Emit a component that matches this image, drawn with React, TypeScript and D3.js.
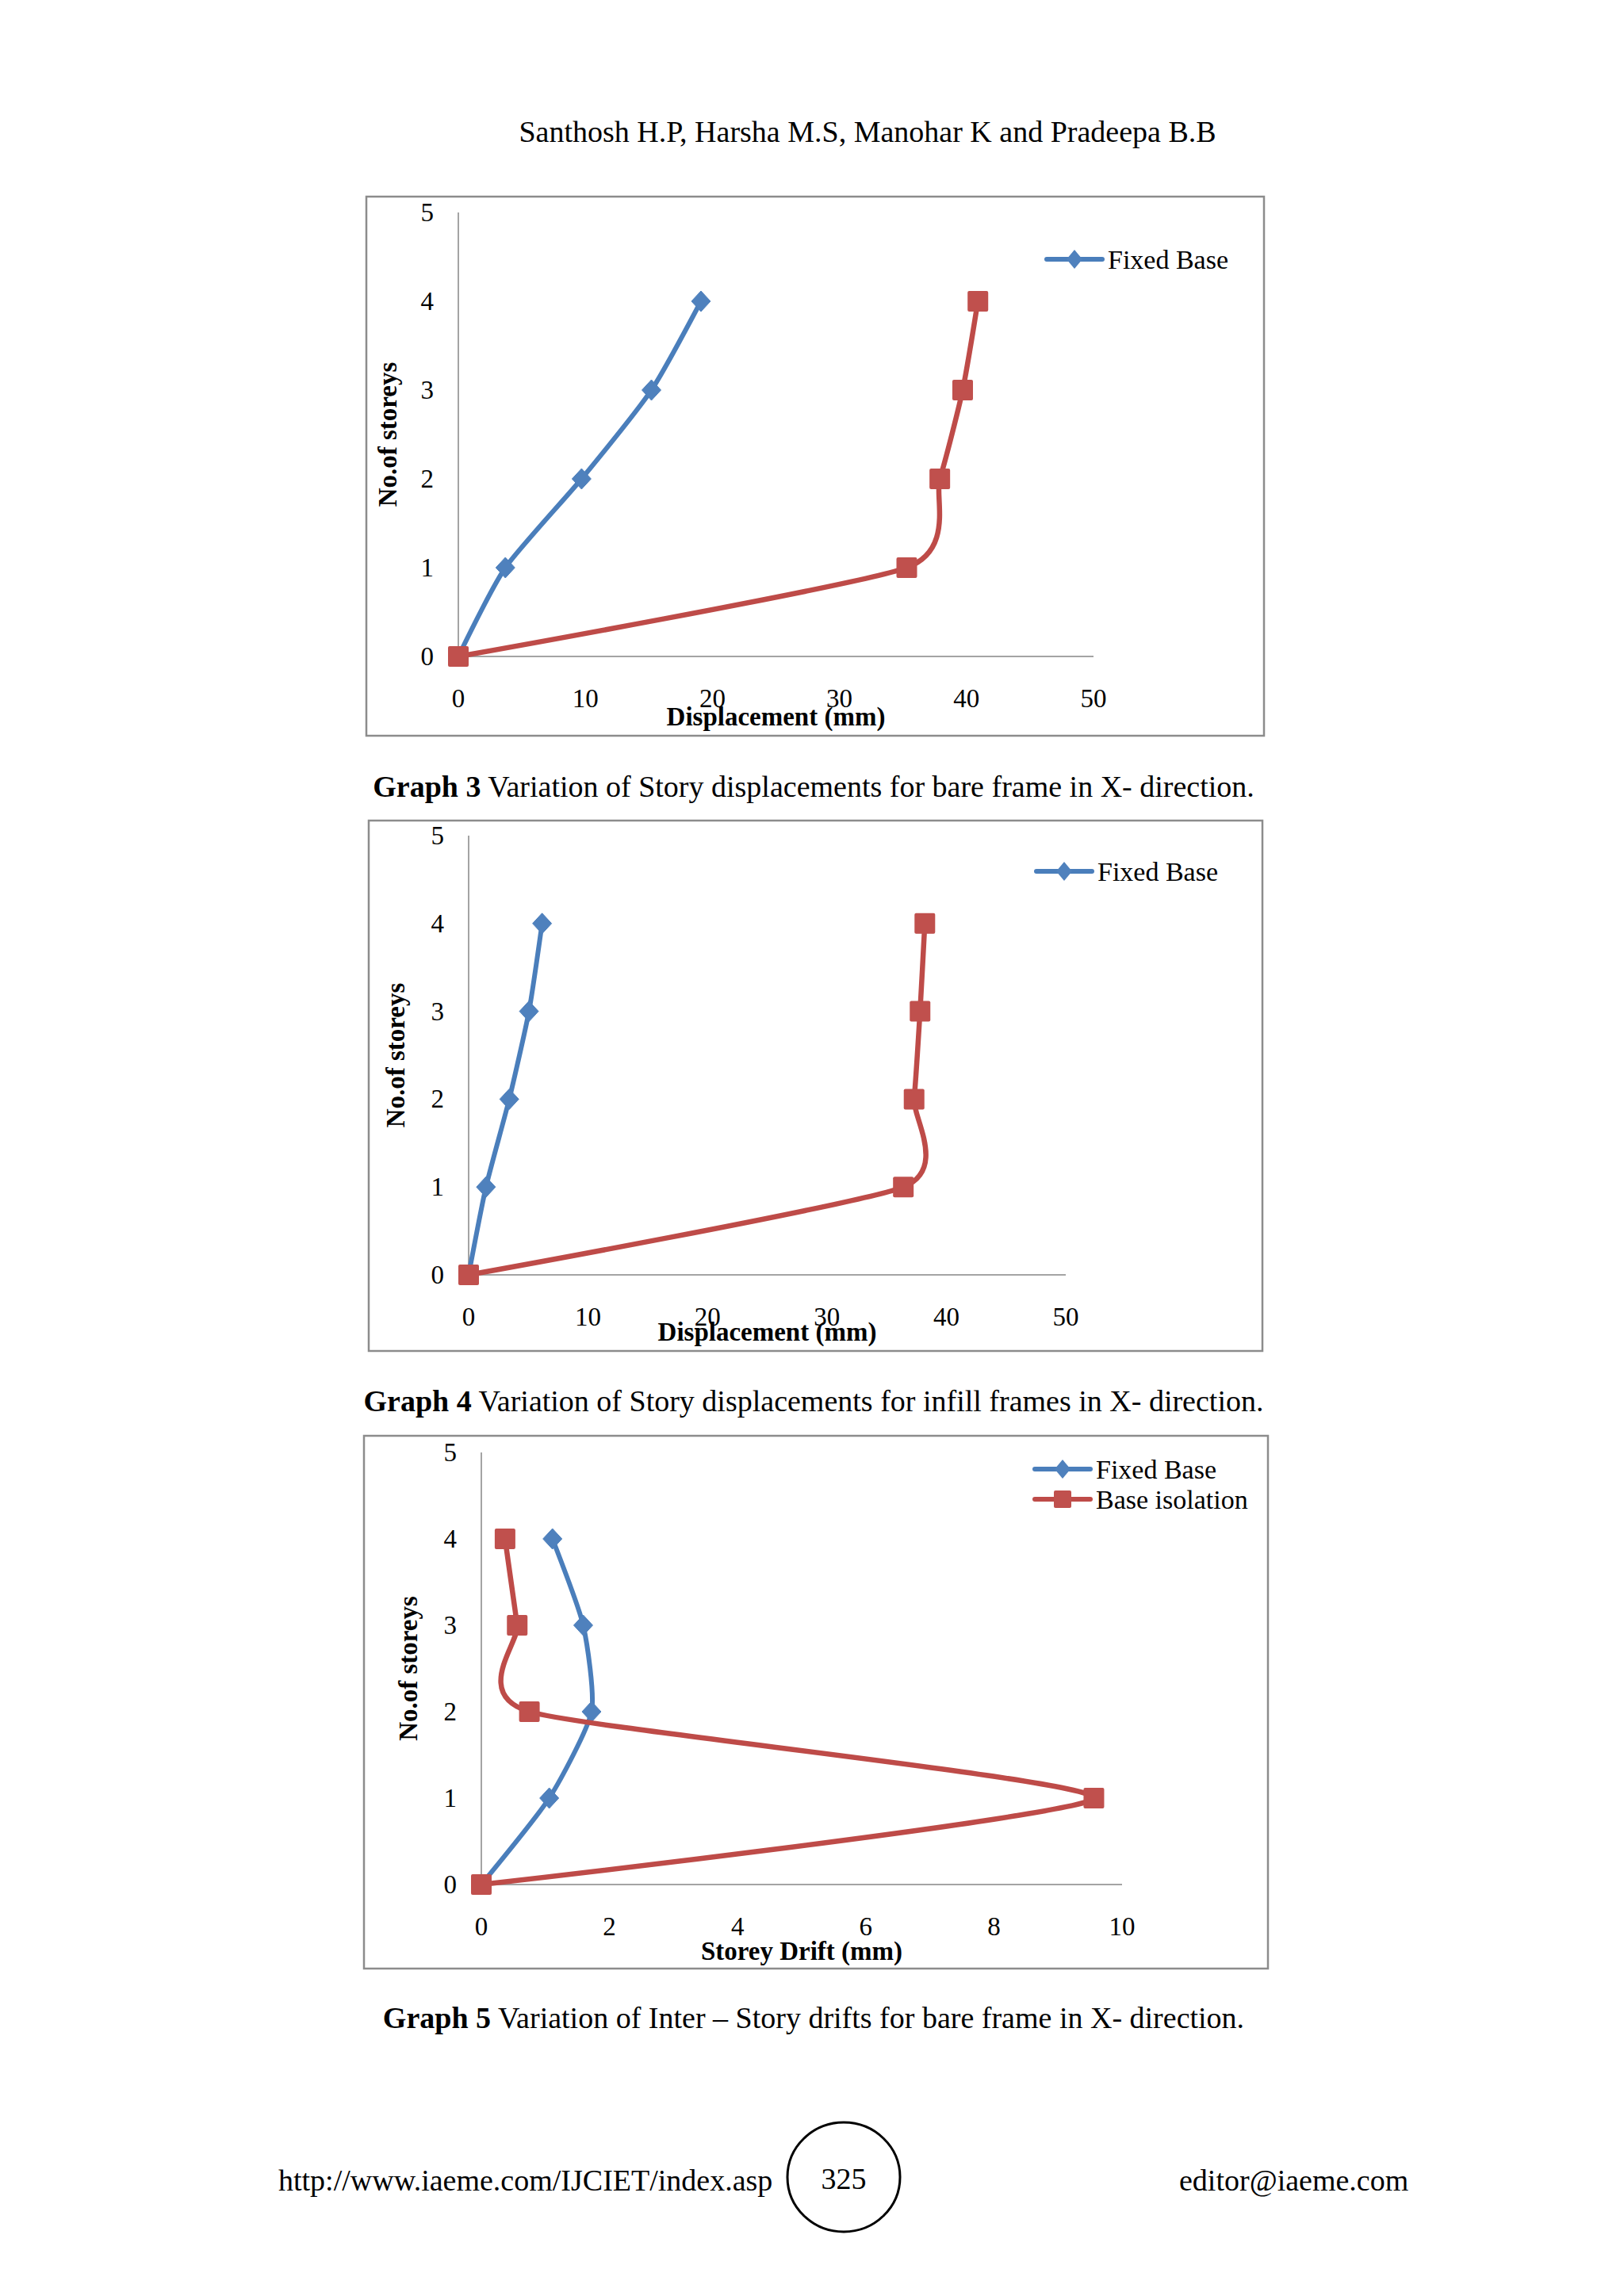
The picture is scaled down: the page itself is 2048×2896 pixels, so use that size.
import React from "react";
import * as d3 from "d3";

// ---------- data ----------
const storeys = [0, 1, 2, 3, 4];
const storeyTicks = [0, 1, 2, 3, 4, 5];

const g3Fixed = [0, 3.7, 9.7, 15.2, 19.1];
const g3Iso = [0, 35.3, 37.9, 39.7, 40.9];

const g4Fixed = [0, 1.45, 3.4, 5.05, 6.15];
const g4Iso = [0, 36.4, 37.3, 37.8, 38.2];

const g5Fixed = [0, 1.06, 1.72, 1.59, 1.11];
const g5Iso = [0, 9.56, 0.75, 0.56, 0.37];

const dispTicks = [0, 10, 20, 30, 40, 50];
const driftTicks = [0, 2, 4, 6, 8, 10];

const seriesNames = ["Fixed Base", "Base isolation"];

const headerText = "Santhosh H.P, Harsha M.S, Manohar K and Pradeepa B.B";
const captions = [
  ["Graph 3", " Variation of Story displacements for bare frame in X- direction."],
  ["Graph 4", " Variation of Story displacements for infill frames in X- direction."],
  ["Graph 5", " Variation of Inter \u2013 Story drifts for bare frame in X- direction."],
];
const footerLeft = "http://www.iaeme.com/IJCIET/index.asp";
const footerPage = "325";
const footerRight = "editor@iaeme.com";

// ---------- style ----------
const BLUE_LINE = "#4A7EBB";
const BLUE_MARK = "#4F81BD";
const RED_LINE = "#BE4B48";
const RED_MARK = "#C0504D";
const AXIS = "#868686";
const FRAME = "#8C8C8C";
const FONT = "'Liberation Serif', 'Times New Roman', serif";

type ChartCfg = {
  frame: { x: number; y: number; w: number; h: number };
  plot: { x0: number; x1: number; y0: number; y1: number };
  xMax: number;
  xTicks: number[];
  xTitle: string;
  xTitleY: number;
  yTitleX: number;
  fixed: number[];
  iso: number[];
  legendX: number;
  legendY: number[];
};

const charts: ChartCfg[] = [
  {
    frame: { x: 462, y: 248, w: 1132, h: 680 },
    plot: { x0: 578, x1: 1379, y0: 828, y1: 268 },
    xMax: 50,
    xTicks: dispTicks,
    xTitle: "Displacement (mm)",
    xTitleY: 904,
    yTitleX: 489,
    fixed: g3Fixed,
    iso: g3Iso,
    legendX: 1320,
    legendY: [327],
  },
  {
    frame: { x: 465, y: 1035, w: 1127, h: 669 },
    plot: { x0: 591, x1: 1344, y0: 1608, y1: 1054 },
    xMax: 50,
    xTicks: dispTicks,
    xTitle: "Displacement (mm)",
    xTitleY: 1680,
    yTitleX: 499,
    fixed: g4Fixed,
    iso: g4Iso,
    legendX: 1307,
    legendY: [1099],
  },
  {
    frame: { x: 459, y: 1811, w: 1140, h: 672 },
    plot: { x0: 607, x1: 1415, y0: 2377, y1: 1832 },
    xMax: 10,
    xTicks: driftTicks,
    xTitle: "Storey Drift (mm)",
    xTitleY: 2461,
    yTitleX: 515,
    fixed: g5Fixed,
    iso: g5Iso,
    legendX: 1305,
    legendY: [1853, 1891],
  },
];

const diamond = (cx: number, cy: number, w: number, h: number) =>
  `M${cx},${cy - h}L${cx + w},${cy}L${cx},${cy + h}L${cx - w},${cy}Z`;

function Chart({ c }: { c: ChartCfg }) {
  const x = d3.scaleLinear().domain([0, c.xMax]).range([c.plot.x0, c.plot.x1]);
  const y = d3.scaleLinear().domain([0, 5]).range([c.plot.y0, c.plot.y1]);
  const line = d3
    .line<number>()
    .x((d) => x(d))
    .y((_, i) => y(storeys[i]))
    .curve(d3.curveCardinal.tension(0.4));
  const midX = (c.plot.x0 + c.plot.x1) / 2;
  const midY = (c.plot.y0 + c.plot.y1) / 2;
  return (
    <g>
      <rect
        x={c.frame.x}
        y={c.frame.y}
        width={c.frame.w}
        height={c.frame.h}
        fill="#fff"
        stroke={FRAME}
        strokeWidth={2.5}
      />
      {/* axes */}
      <line x1={x(0)} x2={x(0)} y1={y(0)} y2={y(5)} stroke={AXIS} strokeWidth={1.5} />
      <line x1={x(0)} x2={x(c.xMax)} y1={y(0)} y2={y(0)} stroke={AXIS} strokeWidth={1.5} />
      {storeyTicks.map((t) => (
        <text
          key={"y" + t}
          x={x(0) - 31}
          y={y(t)}
          textAnchor="end"
          dominantBaseline="central"
          fontSize={33}
          fontFamily={FONT}
        >
          {t}
        </text>
      ))}
      {c.xTicks.map((t) => (
        <text
          key={"x" + t}
          x={x(t)}
          y={y(0) + 53}
          textAnchor="middle"
          dominantBaseline="central"
          fontSize={33}
          fontFamily={FONT}
        >
          {t}
        </text>
      ))}
      {/* titles */}
      <text
        x={midX}
        y={c.xTitleY}
        textAnchor="middle"
        dominantBaseline="central"
        fontSize={33}
        fontWeight="bold"
        fontFamily={FONT}
      >
        {c.xTitle}
      </text>
      <text
        transform={`translate(${c.yTitleX},${midY}) rotate(-90)`}
        textAnchor="middle"
        dominantBaseline="central"
        fontSize={33}
        fontWeight="bold"
        fontFamily={FONT}
      >
        No.of storeys
      </text>
      {/* fixed base series */}
      <path d={line(c.fixed) || ""} fill="none" stroke={BLUE_LINE} strokeWidth={6} strokeLinecap="round" strokeLinejoin="round" />
      {c.fixed.map((v, i) => (
        <path key={"f" + i} d={diamond(x(v), y(storeys[i]), 12, 13)} fill={BLUE_MARK} stroke={BLUE_MARK} strokeWidth={1} strokeLinejoin="round" />
      ))}
      {/* base isolation series */}
      <path d={line(c.iso) || ""} fill="none" stroke={RED_LINE} strokeWidth={6.5} strokeLinecap="round" strokeLinejoin="round" />
      {c.iso.map((v, i) => (
        <rect key={"r" + i} x={x(v) - 13} y={y(storeys[i]) - 13} width={26} height={26} rx={2} fill={RED_MARK} />
      ))}
      {/* legend */}
      {c.legendY.map((ly, i) => (
        <g key={"l" + i}>
          <line x1={c.legendX} x2={c.legendX + 70} y1={ly} y2={ly} stroke={i === 0 ? BLUE_LINE : RED_LINE} strokeWidth={6} strokeLinecap="round" />
          {i === 0 ? (
            <path d={diamond(c.legendX + 35, ly, 10, 12)} fill={BLUE_MARK} />
          ) : (
            <rect x={c.legendX + 35 - 11} y={ly - 11} width={22} height={22} rx={2} fill={RED_MARK} />
          )}
          <text
            x={c.legendX + 77}
            y={ly}
            dominantBaseline="central"
            fontSize={34}
            fontFamily={FONT}
          >
            {seriesNames[i]}
          </text>
        </g>
      ))}
    </g>
  );
}

export default function App() {
  const captionY = [992, 1767, 2545];
  return (
    <svg
      width={2048}
      height={2896}
      style={{ position: "absolute", left: 0, top: 0, display: "block", background: "#fff" }}
    >
      <rect x={0} y={0} width={2048} height={2896} fill="#fff" />
      <text x={1094} y={166} textAnchor="middle" dominantBaseline="central" fontSize={38} fontFamily={FONT}>
        {headerText}
      </text>
      {charts.map((c, i) => (
        <Chart key={i} c={c} />
      ))}
      {captions.map((cap, i) => (
        <text key={"c" + i} x={1026} y={captionY[i]} textAnchor="middle" dominantBaseline="central" fontSize={38} fontFamily={FONT}>
          <tspan fontWeight="bold">{cap[0]}</tspan>
          <tspan>{cap[1]}</tspan>
        </text>
      ))}
      <text x={351} y={2750} dominantBaseline="central" fontSize={38} fontFamily={FONT}>
        {footerLeft}
      </text>
      <ellipse cx={1064} cy={2746} rx={71} ry={69} fill="none" stroke="#000" strokeWidth={3} />
      <text x={1064} y={2748} textAnchor="middle" dominantBaseline="central" fontSize={38} fontFamily={FONT}>
        {footerPage}
      </text>
      <text x={1487} y={2750} dominantBaseline="central" fontSize={38} fontFamily={FONT}>
        {footerRight}
      </text>
    </svg>
  );
}
